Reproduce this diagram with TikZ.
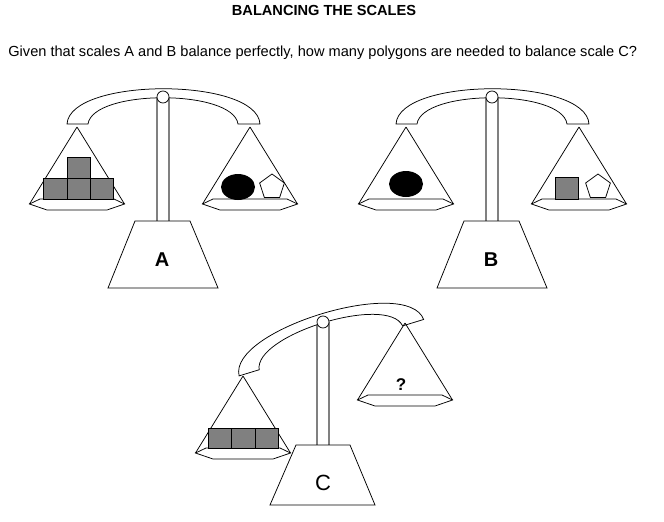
\documentclass[tikz,border=0pt]{standalone}
\usepackage{fontspec}
\setmainfont{Liberation Sans}
\begin{document}
\begin{tikzpicture}[x=1pt,y=-1pt,line width=0.75pt,
  box/.style={draw=black,fill=black!50},
  post/.style={draw=black!50,line width=1.6pt},
  lbl/.style={font=\fontsize{20}{22}\selectfont\bfseries},
  pan/.pic={
    \draw (0,0) -- (-47.5,77) (0,0) -- (47.5,77);
    \draw[fill=white] (-47.5,77) -- (-37,72) -- (37,72) -- (47.5,77) -- (30,83) -- (-30,83) -- cycle;
  },
  beam/.pic={
    \draw[fill=white] (-96,27) .. controls (-93,-20) and (94,-20) .. (97,27) -- (75,27) .. controls (70,-8) and (-70,-8) .. (-75,27) -- cycle;
  },
  penta/.pic={
    \draw[fill=white] (90:-13) -- (162:-13) -- (234:-13) -- (306:-13) -- (18:-13) -- cycle;
  }]
\useasboundingbox (0,0) rectangle (664,522);
\node[font=\fontsize{14.6}{16}\selectfont\bfseries] (title) at (324,10) {BALANCING THE SCALES};
\node[anchor=west,font=\fontsize{14.6}{16}\selectfont,inner sep=0] (q) at (8,53) {Given that scales A and B balance perfectly, how many polygons are needed to balance scale C?};
% ---------- Scale A
\draw[post] (157,97) -- (157,221) (169,97) -- (169,221);
\draw (135,221) -- (190,221) -- (218,288) -- (108,288) -- cycle;
\node[lbl] (la) at (162,260) {A};
\pic at (163,97) {beam};
\draw[fill=white] (163,97) circle (6);
\pic at (77,127) {pan};
\pic at (250,127) {pan};
\draw[box] (43,178) rectangle (67,199) (67,178) rectangle (90,199) (90,178) rectangle (113,199) (67,157) rectangle (90,178);
\fill (238,187) ellipse (17 and 13);
\pic at (272,187) {penta};
% ---------- Scale B
\draw[post] (486,97) -- (486,221) (498,97) -- (498,221);
\draw (464,221) -- (519,221) -- (547,288) -- (437,288) -- cycle;
\node[lbl] (lb) at (491,260) {B};
\pic at (492,97) {beam};
\draw[fill=white] (492,97) circle (6);
\pic at (406,127) {pan};
\pic at (579,127) {pan};
\fill (406,184) ellipse (17 and 13);
\draw[box] (555,177) rectangle (578,199);
\pic at (598,187) {penta};
% ---------- Scale C
\draw[post] (317,322) -- (317,445) (329,322) -- (329,445);
\draw (296,445) -- (350,445) -- (375,505) -- (270,505) -- cycle;
\node[font=\fontsize{22}{24}\selectfont] (lc) at (323,483) {C};
\pic[rotate=17] at (323,322) {beam};
\draw[fill=white] (323,322) circle (6);
\pic at (243,376) {pan};
\pic at (405,323) {pan};
\draw[box] (208,428) rectangle (231,448) (231,428) rectangle (255,448) (255,428) rectangle (278,448);
\node[font=\fontsize{17}{20}\selectfont\bfseries] (qm) at (401,385) {?};
\end{tikzpicture}
\end{document}
